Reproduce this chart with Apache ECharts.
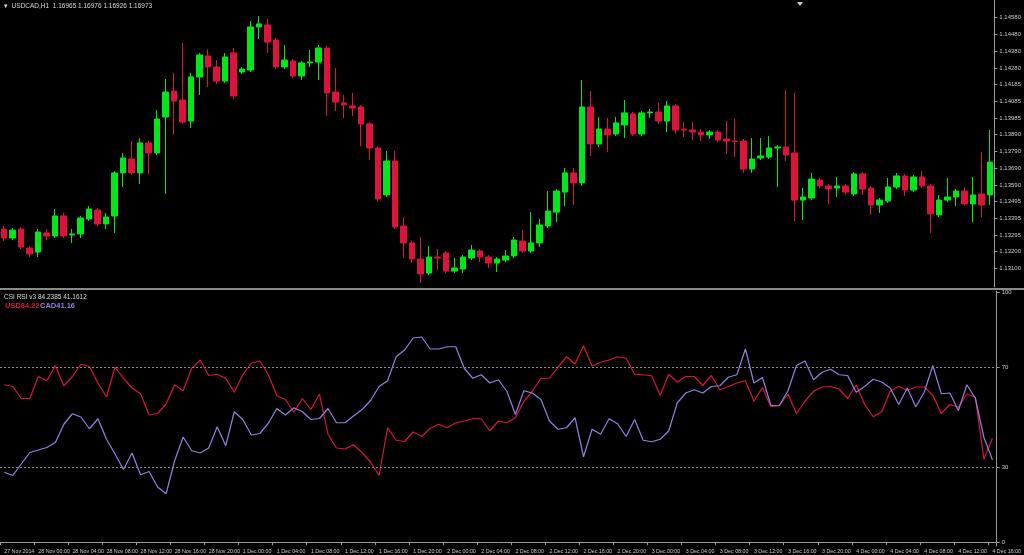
<!DOCTYPE html>
<html>
<head>
<meta charset="utf-8">
<script src="https://cdn.jsdelivr.net/npm/echarts@6/dist/echarts.min.js"></script>
<style>
  html, body { margin: 0; padding: 0; background: #000; }
  #chart { width: 1024px; height: 555px; }
</style>
</head>
<body>
<div id="chart"></div>
<script>
// H1 candles, 27 Nov 2014 20:00 .. 4 Dec 2014 16:00 (weekend skipped)
// each row: [open, close, low, high]
const candles = [
  [1.13330,1.13277,1.13259,1.13348],[1.13277,1.13324,1.13265,1.13336],[1.13330,1.13224,1.13212,1.13342],[1.13218,1.13183,1.13165,1.13230],
  [1.13194,1.13312,1.13165,1.13330],[1.13307,1.13289,1.13265,1.13330],[1.13289,1.13407,1.13277,1.13448],[1.13407,1.13289,1.13277,1.13425],
  [1.13295,1.13301,1.13248,1.13330],[1.13301,1.13395,1.13277,1.13407],[1.13389,1.13448,1.13377,1.13466],[1.13442,1.13360,1.13348,1.13454],
  [1.13360,1.13401,1.13330,1.13425],[1.13407,1.13661,1.13307,1.13672],[1.13661,1.13749,1.13578,1.13779],[1.13743,1.13661,1.13649,1.13849],
  [1.13661,1.13838,1.13596,1.13867],[1.13838,1.13779,1.13655,1.13849],[1.13779,1.13979,1.13767,1.14032],[1.13991,1.14138,1.13537,1.14215],
  [1.14144,1.14085,1.13885,1.14251],[1.14091,1.13961,1.13950,1.14428],[1.13967,1.14227,1.13926,1.14251],[1.14227,1.14357,1.14121,1.14369],
  [1.14351,1.14286,1.14168,1.14392],[1.14286,1.14203,1.14186,1.14327],[1.14203,1.14345,1.14192,1.14369],[1.14369,1.14115,1.14097,1.14398],
  [1.14256,1.14274,1.14245,1.14286],[1.14268,1.14522,1.14256,1.14557],[1.14522,1.14540,1.14451,1.14587],[1.14534,1.14433,1.14369,1.14569],
  [1.14445,1.14286,1.14274,1.14457],[1.14286,1.14327,1.14274,1.14416],[1.14321,1.14233,1.14221,1.14333],[1.14233,1.14310,1.14209,1.14321],
  [1.14310,1.14315,1.14286,1.14386],[1.14315,1.14398,1.14209,1.14416],[1.14398,1.14133,1.13997,1.14410],[1.14138,1.14079,1.14026,1.14280],
  [1.14074,1.14062,1.13985,1.14121],[1.14056,1.14044,1.13997,1.14133],[1.14050,1.13950,1.13820,1.14062],[1.13950,1.13808,1.13737,1.13961],
  [1.13808,1.13507,1.13495,1.13820],[1.13531,1.13731,1.13519,1.13790],[1.13731,1.13342,1.13330,1.13790],[1.13348,1.13248,1.13159,1.13401],
  [1.13248,1.13153,1.13130,1.13259],[1.13153,1.13065,1.13011,1.13283],[1.13070,1.13165,1.13059,1.13230],[1.13165,1.13159,1.13088,1.13212],
  [1.13189,1.13082,1.13070,1.13200],[1.13082,1.13100,1.13070,1.13159],[1.13094,1.13165,1.13070,1.13177],[1.13159,1.13206,1.13147,1.13236],
  [1.13200,1.13165,1.13135,1.13212],[1.13165,1.13130,1.13100,1.13177],[1.13130,1.13153,1.13076,1.13165],[1.13147,1.13171,1.13135,1.13206],
  [1.13171,1.13265,1.13159,1.13283],[1.13259,1.13200,1.13189,1.13324],[1.13200,1.13248,1.13189,1.13430],[1.13248,1.13354,1.13224,1.13389],
  [1.13348,1.13436,1.13336,1.13554],[1.13430,1.13554,1.13371,1.13566],[1.13548,1.13661,1.13466,1.13690],[1.13661,1.13602,1.13472,1.13690],
  [1.13602,1.14050,1.13584,1.14209],[1.14050,1.13832,1.13761,1.14144],[1.13832,1.13920,1.13814,1.13991],[1.13920,1.13885,1.13784,1.13985],
  [1.13891,1.13956,1.13879,1.13991],[1.13944,1.14015,1.13867,1.14091],[1.14009,1.13891,1.13879,1.14020],[1.13891,1.14015,1.13879,1.14026],
  [1.14015,1.14020,1.13985,1.14038],[1.14020,1.13967,1.13950,1.14074],[1.13967,1.14056,1.13902,1.14085],[1.14056,1.13914,1.13891,1.14068],
  [1.13920,1.13914,1.13873,1.13961],[1.13914,1.13902,1.13855,1.13961],[1.13902,1.13885,1.13849,1.13920],[1.13885,1.13902,1.13861,1.13914],
  [1.13902,1.13855,1.13843,1.13914],[1.13861,1.13849,1.13773,1.13967],[1.13849,1.13846,1.13755,1.13979],[1.13849,1.13684,1.13661,1.13861],
  [1.13684,1.13743,1.13661,1.13867],[1.13749,1.13761,1.13737,1.13867],[1.13755,1.13808,1.13743,1.13879],[1.13808,1.13814,1.13578,1.13826],
  [1.13814,1.13767,1.13731,1.14150],[1.13779,1.13501,1.13377,1.14133],[1.13501,1.13519,1.13383,1.13572],[1.13513,1.13625,1.13501,1.13661],
  [1.13619,1.13584,1.13572,1.13631],[1.13584,1.13566,1.13478,1.13596],[1.13572,1.13584,1.13519,1.13637],[1.13584,1.13548,1.13537,1.13596],
  [1.13537,1.13655,1.13525,1.13666],[1.13655,1.13566,1.13531,1.13666],[1.13572,1.13472,1.13413,1.13584],[1.13472,1.13501,1.13425,1.13513],
  [1.13495,1.13578,1.13484,1.13631],[1.13578,1.13643,1.13566,1.13661],[1.13643,1.13560,1.13525,1.13655],[1.13560,1.13637,1.13548,1.13649],
  [1.13637,1.13584,1.13572,1.13672],[1.13584,1.13419,1.13307,1.13596],[1.13413,1.13501,1.13401,1.13531],[1.13501,1.13519,1.13489,1.13631],
  [1.13519,1.13554,1.13466,1.13566],[1.13554,1.13478,1.13466,1.13578],[1.13478,1.13531,1.13371,1.13637],[1.13537,1.13472,1.13401,1.13784],
  [1.13531,1.13725,1.13472,1.13914]
];

const usdRsi = [
  63.0,62.3,57.5,57.5,66.3,64.6,70.7,62.6,66.3,71.2,70.3,63.7,58.1,70.0,65.6,61.7,59.4,50.9,51.5,55.3,
  63.0,60.6,69.6,72.9,66.7,67.2,65.6,60.0,67.0,71.6,72.6,67.0,58.6,57.1,52.0,57.5,53.1,59.3,43.2,37.7,
  37.3,39.0,35.9,32.0,26.7,45.8,40.8,40.3,44.1,42.3,45.6,47.2,45.8,47.8,48.5,49.5,49.4,44.5,48.5,47.8,
  49.8,56.4,60.4,65.6,65.6,70.0,74.2,71.3,78.6,70.5,72.0,72.9,74.2,73.6,67.2,67.0,66.6,58.8,67.2,64.1,
  66.3,66.3,62.7,66.7,61.0,62.3,63.7,64.6,56.4,61.9,54.2,54.7,59.3,51.5,56.4,60.4,62.1,62.3,61.3,57.5,
  63.0,55.1,50.2,52.2,60.4,62.3,60.8,62.1,62.1,58.8,51.5,55.1,54.0,59.3,58.0,33.3,41.6
];
const cadRsi = [
  28.0,26.7,31.3,35.9,36.9,37.9,39.9,47.2,51.4,50.1,45.4,49.4,41.2,35.3,29.1,35.7,27.0,28.3,22.1,19.4,
  32.6,42.1,36.6,35.7,37.7,46.2,38.6,52.2,49.1,42.9,43.5,47.6,53.5,50.9,53.8,52.2,49.1,49.5,53.5,47.8,
  47.8,50.5,53.1,56.7,62.3,64.6,74.2,76.9,81.7,82.1,77.3,77.3,78.2,78.2,69.6,65.6,67.0,63.7,65.0,60.4,
  51.1,60.6,59.7,57.1,48.5,45.2,45.8,49.8,34.2,45.2,43.2,49.4,47.4,42.3,49.1,40.8,40.2,41.2,44.5,55.7,
  59.7,61.0,59.7,62.3,62.6,66.0,67.0,77.3,63.7,65.9,54.7,54.8,60.6,70.7,72.5,65.0,68.0,69.2,67.0,66.7,
  60.0,62.3,65.2,64.1,61.7,55.1,61.7,54.2,60.0,70.7,59.4,59.7,52.7,63.0,57.5,41.9,33.0
];

const priceTicks = [1.14580,1.14480,1.14380,1.14280,1.14185,1.14085,1.13985,1.13890,1.13790,1.13690,1.13590,1.13495,1.13395,1.13295,1.13200,1.13100];
const rsiTicks = [0, 30, 70, 100];
const rsiLevels = [70, 30];

// time labels, one per hourly bar
const months = ['Jan','Feb','Mar','Apr','May','Jun','Jul','Aug','Sep','Oct','Nov','Dec'];
const categories = [];
let t = Date.UTC(2014, 10, 27, 20);
for (let i = 0; i < candles.length; i++) {
  const d = new Date(t);
  if (d.getUTCDay() === 6) { t += 48 * 3600e3; i--; continue; }
  const hh = String(d.getUTCHours()).padStart(2, '0');
  categories.push(i === 0 ? d.getUTCDate() + ' ' + months[d.getUTCMonth()] + ' 2014'
                          : d.getUTCDate() + ' ' + months[d.getUTCMonth()] + ' ' + hh + ':00');
  t += 3600e3;
}

const GREEN = '#00e81a', RED = '#dc143c', PURPLE = '#8f84e0';
const axisGrey = '#9a9a9a';
const font = '"Liberation Sans", Arial, sans-serif';

const myChart = echarts.init(document.getElementById('chart'));
const option = {
  backgroundColor: '#000',
  animation: false,
  textStyle: { fontFamily: font },
  graphic: [
    { type: 'text', left: 4, top: 3, style: { text: '\u25BE  USDCAD,H1  1.16965 1.16976 1.16926 1.16973', fill: '#ddd', fontSize: 6.5, fontFamily: font } },
    { type: 'text', left: 4, top: 294, style: { text: 'CSI RSI v3 84.2385 41.1612', fill: '#ddd', fontSize: 6.5, fontFamily: font } },
    { type: 'text', left: 5, top: 302, style: { text: 'USD84.22', fill: RED, fontSize: 7.5, fontWeight: 'bold', fontFamily: font } },
    { type: 'text', left: 40, top: 302, style: { text: 'CAD41.16', fill: PURPLE, fontSize: 7.5, fontWeight: 'bold', fontFamily: font } },
    { type: 'line', shape: { x1: 0, y1: 289, x2: 1024, y2: 289 }, style: { stroke: '#8a8a8a', lineWidth: 2 } },
    { type: 'polygon', shape: { points: [[797, 2], [803, 2], [800, 6]] }, style: { fill: '#ccc' } }
  ],
  grid: [
    { left: -1, right: 27, top: 0, height: 287 },
    { left: -1, right: 27, top: 291, height: 255 }
  ],
  xAxis: [
    { type: 'category', gridIndex: 0, data: categories, boundaryGap: true,
      axisLine: { show: false }, axisTick: { show: false }, axisLabel: { show: false }, splitLine: { show: false } },
    { type: 'category', gridIndex: 1, data: categories, boundaryGap: true,
      axisLine: { lineStyle: { color: axisGrey } },
      axisTick: { show: true, length: 3, interval: i => i % 4 === 0, lineStyle: { color: axisGrey } },
      axisLabel: { interval: i => i % 4 === 0, showMinLabel: true, hideOverlap: false, color: '#ccc', fontSize: 5.3, align: 'left', margin: 3, fontFamily: font },
      splitLine: { show: false } }
  ],
  yAxis: [
    { type: 'value', gridIndex: 0, position: 'right', min: 1.12988, max: 1.14681, scale: true,
      axisLine: { show: true, lineStyle: { color: axisGrey } },
      axisTick: { show: true, length: 3, customValues: priceTicks, lineStyle: { color: axisGrey } },
      axisLabel: { customValues: priceTicks, color: '#ccc', fontSize: 6, margin: 5, formatter: v => v.toFixed(5) },
      splitLine: { show: false } },
    { type: 'value', gridIndex: 1, position: 'right', min: -1.5, max: 100.5,
      axisLine: { show: true, lineStyle: { color: axisGrey } },
      axisTick: { show: true, length: 3, customValues: rsiTicks, lineStyle: { color: axisGrey } },
      axisLabel: { customValues: rsiTicks, color: '#ccc', fontSize: 6, margin: 5 },
      splitLine: { show: false } }
  ],
  series: [
    { type: 'candlestick', xAxisIndex: 0, yAxisIndex: 0, data: candles, barWidth: 6,
      itemStyle: { color: GREEN, color0: RED, borderColor: GREEN, borderColor0: RED, borderWidth: 1 } },
    { type: 'line', xAxisIndex: 1, yAxisIndex: 1, data: usdRsi, symbol: 'none',
      lineStyle: { color: RED, width: 1.2 },
      markLine: { silent: true, symbol: 'none', label: { show: false },
        lineStyle: { color: '#8a8a8a', type: [2, 2], width: 1 },
        data: rsiLevels.map(v => ({ yAxis: v })) } },
    { type: 'line', xAxisIndex: 1, yAxisIndex: 1, data: cadRsi, symbol: 'none',
      lineStyle: { color: PURPLE, width: 1.2 } }
  ]
};
myChart.setOption(option);
</script>
</body>
</html>
